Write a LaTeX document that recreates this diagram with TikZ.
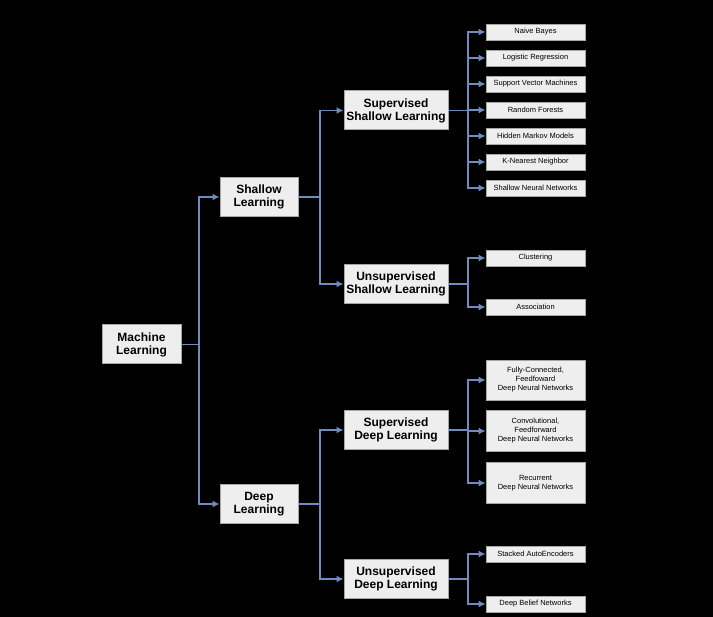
\documentclass[tikz,border=0pt]{standalone}
\usepackage{fontspec}
\setmainfont{Liberation Sans}
\usetikzlibrary{arrows.meta}
\definecolor{ln}{RGB}{110,140,190}
\definecolor{bx}{RGB}{238,238,238}
\tikzset{
 main/.style={draw=gray!70,line width=1pt,fill=bx,minimum width=#1pt,minimum height=39pt,inner sep=1pt,align=center,font=\fontsize{12}{13}\selectfont\bfseries},
 leaf/.style={draw=gray!70,line width=0.8pt,fill=bx,minimum width=99pt,minimum height=16pt,inner sep=1pt,align=center,font=\fontsize{7.5}{9}\selectfont},
 con/.style={draw=ln,line width=1.5pt},
 arr/.style={con,-{Latex[length=7pt,width=7pt]}}
}
\begin{document}
\begin{tikzpicture}[x=1pt,y=-1pt]
\fill[black] (0,0) rectangle (713,617);
\useasboundingbox (0,0) rectangle (713,617);
\node[main=79] (ml) at (141.5,344.5) {Machine\\Learning};
\node[main=78] (sh) at (259,197) {Shallow\\Learning};
\node[main=78] (dl) at (259,504) {Deep\\Learning};
\node[main=104] (ss) at (396,110.5) {Supervised\\Shallow Learning};
\node[main=104] (us) at (396,284) {Unsupervised\\Shallow Learning};
\node[main=104] (sd) at (396,430) {Supervised\\Deep Learning};
\node[main=104] (ud) at (396,579) {Unsupervised\\Deep Learning};
\foreach \n/\y/\t in {a/32/Naive Bayes,b/58/Logistic Regression,c/84/Support Vector Machines,d/110/Random Forests,e/136/Hidden Markov Models,f/162/K-Nearest Neighbor,g/188/Shallow Neural Networks,h/258/Clustering,i/307/Association,m/554/Stacked AutoEncoders,n/604/Deep Belief Networks}
  \node[leaf] (\n) at (535.5,\y) {\t};
\node[leaf,minimum height=40pt] (j) at (535.5,380) {Fully-Connected,\\Feedfoward\\Deep Neural Networks};
\node[leaf,minimum height=41pt] (k) at (535.5,431) {Convolutional,\\Feedforward\\Deep Neural Networks};
\node[leaf,minimum height=41pt] (l) at (535.5,483) {Recurrent\\Deep Neural Networks};
\newcommand\branch[3]{%
 \draw[con] (#1.east) -- (#2,0 |- #1.east);
 \foreach \c in {#3} \draw[arr] (#2,0 |- #1.east) |- (\c.west);}
\branch{ml}{199}{sh,dl}
\branch{sh}{320}{ss,us}
\branch{dl}{320}{sd,ud}
\branch{ss}{468}{a,b,c,d,e,f,g}
\branch{us}{468}{h,i}
\branch{sd}{468}{j,k,l}
\branch{ud}{468}{m,n}
\end{tikzpicture}
\end{document}
